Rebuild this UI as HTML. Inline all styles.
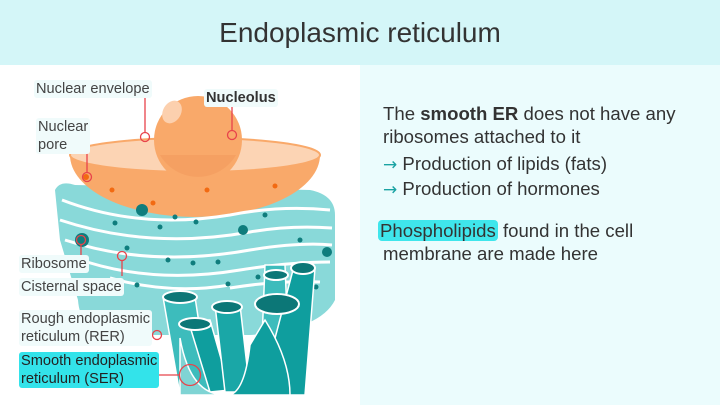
<!DOCTYPE html>
<html><head><style>
body{margin:0;width:720px;height:405px;overflow:hidden;font-family:"Liberation Sans",sans-serif;background:#fff;position:relative}
.top{position:absolute;left:0;top:0;width:720px;height:65px;background:#d4f6f8;text-align:center;line-height:66px;font-size:28px;color:#333;font-weight:300}
.right{position:absolute;left:360px;top:65px;width:360px;height:340px;background:#ebfcfd}
.t{position:absolute;left:383px;font-size:18.6px;color:#333;white-space:nowrap}
.lb{position:absolute;font-size:14.6px;color:#444;white-space:nowrap;line-height:18px;background:#f0fbfb;padding:0 2px;border-radius:3px}
.ar{color:#1aa3a3;font-family:"DejaVu Sans",sans-serif;font-size:17px}
</style></head><body>
<div class="top">Endoplasmic reticulum</div>
<div class="right"></div>
<div class="t" style="top:103px">The <b>smooth ER</b> does not have any</div>
<div class="t" style="top:126px">ribosomes attached to it</div>
<div class="t" style="top:153px"><span class="ar">→</span> Production of lipids (fats)</div>
<div class="t" style="top:178px"><span class="ar">→</span> Production of hormones</div>
<div class="t" style="top:220px"><span style="background:#3fe6ec;border-radius:4px;padding:0 2px;margin-left:-5px">Phospholipids</span> found in the cell</div>
<div class="t" style="top:243px">membrane are made here</div>
<svg style="position:absolute;left:0;top:0" width="360" height="405">
<path d="M55 190 Q60 180 75 185 L310 190 Q335 195 335 215 L335 300 Q320 330 250 335 L110 335 Q80 330 78 300 L60 240 Z" fill="#89d9d9"/>
<path d="M70 155 A125 62 0 0 0 320 155 Z" fill="#f9a96a"/>
<ellipse cx="195" cy="155" rx="125" ry="17" fill="#fcd4b4" stroke="#f9a96a" stroke-width="2"/>
<circle cx="198" cy="140" r="44" fill="#f9a96a"/>
<path d="M160 155 A44 44 0 0 0 236 155 Z" fill="#f5a062"/>
<ellipse cx="172" cy="112" rx="9" ry="12" fill="#fcd0ae" transform="rotate(30 172 112)"/>
<g fill="#f26a12"><circle cx="112" cy="190" r="2.5"/><circle cx="207" cy="190" r="2.5"/><circle cx="275" cy="186" r="2.5"/><circle cx="153" cy="203" r="2.5"/><circle cx="86" cy="177" r="3"/></g>
<g fill="none" stroke="#fff" stroke-width="3">
<path d="M62 200 Q140 230 230 215 Q280 205 330 210"/>
<path d="M60 220 Q150 250 250 232 Q290 225 332 228"/>
<path d="M65 240 Q150 268 250 250 Q300 242 332 245"/>
<path d="M75 258 Q150 285 240 270 Q290 262 330 262"/>
<path d="M110 278 Q170 295 230 285"/>
<path d="M230 288 Q280 280 320 282"/>
</g>
<g fill="#0f7d7d"><circle cx="142" cy="210" r="6"/><circle cx="82" cy="240" r="7"/><circle cx="327" cy="252" r="5"/><circle cx="115" cy="223" r="2.5"/><circle cx="127" cy="248" r="2.5"/><circle cx="160" cy="227" r="2.5"/><circle cx="196" cy="222" r="2.5"/><circle cx="243" cy="230" r="5"/><circle cx="265" cy="215" r="2.5"/><circle cx="300" cy="240" r="2.5"/><circle cx="193" cy="263" r="2.5"/><circle cx="218" cy="262" r="2.5"/><circle cx="168" cy="260" r="2.5"/><circle cx="137" cy="285" r="2.5"/><circle cx="228" cy="284" r="2.5"/><circle cx="258" cy="277" r="2.5"/><circle cx="316" cy="287" r="2.5"/><circle cx="175" cy="217" r="2.5"/></g>
<g fill="#0f9e9e" stroke="#fff" stroke-width="1.5">
<path d="M163 297 L195 297 L210 395 L180 395 Z" fill="#3dbcbc"/>
<path d="M188 320 L210 320 L230 390 L210 392 Z"/>
<path d="M215 305 L240 305 L250 392 L225 392 Z" fill="#1aa7a7"/>
<path d="M265 265 L285 265 L290 390 L260 390 Z" fill="#3dbcbc"/>
<path d="M293 270 L315 268 L305 395 L260 395 Z"/>
<path d="M180 338 Q190 395 225 395 L180 395 Z" fill="#7fd4d4"/>
<path d="M250 345 Q245 390 230 395 L290 395 Q290 360 265 320 Z" fill="#0f9e9e"/>
</g>
<g fill="#0c7777" stroke="#fff" stroke-width="2">
<ellipse cx="180" cy="297" rx="17" ry="6"/><ellipse cx="195" cy="324" rx="16" ry="6"/><ellipse cx="227" cy="307" rx="15" ry="6"/><ellipse cx="276" cy="275" rx="12" ry="5"/><ellipse cx="303" cy="268" rx="12" ry="6"/><ellipse cx="277" cy="304" rx="22" ry="10"/>
</g>
<g fill="none" stroke="#e8434b" stroke-width="1.3">
<circle cx="145" cy="137" r="4.5"/><circle cx="232" cy="135" r="4.5"/><circle cx="87" cy="177" r="4.5"/><circle cx="81" cy="240" r="4.5"/><circle cx="122" cy="256" r="4.5"/><circle cx="157" cy="335" r="4.5"/><circle cx="190" cy="375" r="10.5"/>
<path d="M145 98 V132 M232 106 V130 M87 130 V172 M81 245 V255 M122 261 V276 M135 335 H152 M140 375 H180"/>
</g>
</svg>
<div class="lb" style="left:34px;top:80px">Nuclear envelope</div>
<div class="lb" style="left:204px;top:89px;font-weight:bold;color:#333">Nucleolus</div>
<div class="lb" style="left:36px;top:118px">Nuclear<br>pore</div>
<div class="lb" style="left:19px;top:255px">Ribosome</div>
<div class="lb" style="left:19px;top:278px">Cisternal space</div>
<div class="lb" style="left:19px;top:310px">Rough endoplasmic<br>reticulum (RER)</div>
<div class="lb" style="left:19px;top:352px;background:#33e3ea;color:#222">Smooth endoplasmic<br>reticulum (SER)</div>
</body></html>
